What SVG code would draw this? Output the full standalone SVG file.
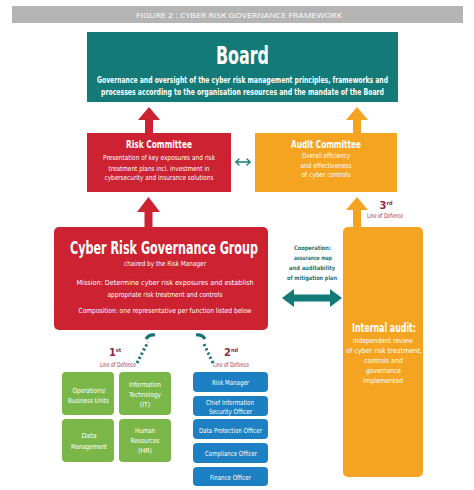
<svg xmlns="http://www.w3.org/2000/svg" width="474" height="490" viewBox="0 0 474 490">
<defs>
<style>
.t{font-family:"DejaVu Sans Condensed","DejaVu Sans",sans-serif;font-stretch:condensed;text-anchor:middle;fill:#fff}
.b{font-weight:bold}
.sm{font-size:7px}
.lod{font-family:"DejaVu Sans Condensed","DejaVu Sans",sans-serif;font-stretch:condensed;text-anchor:middle;fill:#a0334a;font-size:6.5px}
.num{font-family:"DejaVu Sans Condensed","DejaVu Sans",sans-serif;font-stretch:condensed;text-anchor:middle;fill:#8c2a3e;font-size:11px;font-weight:bold}
.coop{font-family:"DejaVu Sans Condensed","DejaVu Sans",sans-serif;font-stretch:condensed;text-anchor:middle;fill:#1b7472;font-size:6px;font-weight:bold}
.red{fill:#cc2232}
.org{fill:#f5a421}
.grn{fill:#7bb748}
.blu{fill:#1c80c2}
.teal{fill:#137a77}
</style>
</defs>
<rect width="474" height="490" fill="#fff"/>

<g id="title">
<rect x="12" y="6" width="451" height="17" fill="#b4b4b4"/>
<text x="239" y="18" font-family="'Open Sans',sans-serif" font-size="8" fill="#fff" text-anchor="middle" textLength="206" lengthAdjust="spacingAndGlyphs">FIGURE 2 : CYBER RISK GOVERNANCE FRAMEWORK</text>
</g>

<g id="board">
<rect x="87" y="32" width="311" height="70" class="teal"/>
<text x="242.5" y="64" class="t b" font-size="24" textLength="53" lengthAdjust="spacingAndGlyphs">Board</text>
<text x="242.5" y="83" class="t b" font-size="8" textLength="291" lengthAdjust="spacingAndGlyphs">Governance and oversight of the cyber risk management principles, frameworks and</text>
<text x="242.5" y="95" class="t b" font-size="8" textLength="283" lengthAdjust="spacingAndGlyphs">processes according to the organisation resources and the mandate of the Board</text>
</g>

<g id="risk-committee">
<rect x="87" y="133" width="144" height="59" class="red"/>
<text x="159" y="148" class="t b" font-size="11" textLength="66" lengthAdjust="spacingAndGlyphs">Risk Committee</text>
<text x="159" y="160" class="t sm" textLength="112" lengthAdjust="spacingAndGlyphs">Presentation of key exposures and risk</text>
<text x="159" y="170.5" class="t sm" textLength="101" lengthAdjust="spacingAndGlyphs">treatment plans incl. investment  in</text>
<text x="159" y="180" class="t sm" textLength="109" lengthAdjust="spacingAndGlyphs">cybersecurity and insurance solutions</text>
</g>

<g id="audit-committee">
<rect x="255" y="133" width="142" height="59" class="org"/>
<text x="326" y="148" class="t b" font-size="11" textLength="70" lengthAdjust="spacingAndGlyphs">Audit Committee</text>
<text x="326" y="158" class="t sm" textLength="48" lengthAdjust="spacingAndGlyphs">Overall efficiency</text>
<text x="326" y="167.5" class="t sm" textLength="51" lengthAdjust="spacingAndGlyphs">and effectiveness</text>
<text x="326" y="177" class="t sm" textLength="49" lengthAdjust="spacingAndGlyphs">of cyber controls</text>
</g>

<g id="crgg">
<rect x="54" y="227" width="214" height="103" rx="5" class="red"/>
<text x="164" y="254" class="t b" font-size="17" textLength="188" lengthAdjust="spacingAndGlyphs">Cyber Risk Governance Group</text>
<text x="165" y="266" class="t sm" textLength="82" lengthAdjust="spacingAndGlyphs">chaired by the Risk Manager</text>
<text x="165" y="285" class="t sm" textLength="177" lengthAdjust="spacingAndGlyphs">Mission: Determine cyber risk exposures and establish</text>
<text x="165" y="297" class="t sm" textLength="115" lengthAdjust="spacingAndGlyphs">appropriate risk treatment and controls</text>
<text x="165" y="313" class="t sm" textLength="173" lengthAdjust="spacingAndGlyphs">Composition: one representative per function listed below</text>
</g>

<g id="internal-audit">
<rect x="343" y="227" width="80" height="250" rx="5" class="org"/>
<text x="384" y="332" class="t b" font-size="11.5" textLength="64" lengthAdjust="spacingAndGlyphs">Internal audit:</text>
<text x="383" y="343" class="t sm" textLength="60" lengthAdjust="spacingAndGlyphs">independent review</text>
<text x="384" y="353" class="t sm" textLength="76" lengthAdjust="spacingAndGlyphs">of cyber risk treatment,</text>
<text x="383.5" y="363" class="t sm" textLength="39" lengthAdjust="spacingAndGlyphs">controls and</text>
<text x="383.5" y="373" class="t sm" textLength="35" lengthAdjust="spacingAndGlyphs">governance</text>
<text x="383" y="383" class="t sm" textLength="40" lengthAdjust="spacingAndGlyphs">implemented</text>
</g>

<g id="line1-label">
<text x="115" y="356" class="num">1<tspan font-size="5.5" dy="-4">st</tspan></text>
<text x="118" y="367" class="lod" textLength="36" lengthAdjust="spacingAndGlyphs">Line of Defence</text>
</g>
<g id="line2-label">
<text x="231" y="356" class="num">2<tspan font-size="5.5" dy="-4">nd</tspan></text>
<text x="231" y="367" class="lod" textLength="36" lengthAdjust="spacingAndGlyphs">Line of Defence</text>
</g>
<g id="line3-label">
<text x="386" y="209" class="num">3<tspan font-size="5.5" dy="-4">rd</tspan></text>
<text x="385" y="218" class="lod" textLength="36" lengthAdjust="spacingAndGlyphs">Line of Defence</text>
</g>

<g id="cooperation-label">
<text x="312.5" y="250" class="coop" textLength="37" lengthAdjust="spacingAndGlyphs">Cooperation:</text>
<text x="313" y="260" class="coop" textLength="38" lengthAdjust="spacingAndGlyphs">assurance map</text>
<text x="312" y="270" class="coop" textLength="46" lengthAdjust="spacingAndGlyphs">and auditability</text>
<text x="312" y="280" class="coop" textLength="50" lengthAdjust="spacingAndGlyphs">of mitigation plan</text>
</g>

<g id="ops">
<rect x="62" y="372" width="52" height="43" rx="4" class="grn"/>
<text x="89" y="393" class="t sm" textLength="33" lengthAdjust="spacingAndGlyphs">Operations/</text>
<text x="88.5" y="403" class="t sm" textLength="41" lengthAdjust="spacingAndGlyphs">Business Units</text>
</g>
<g id="it">
<rect x="119" y="372" width="52" height="43" rx="4" class="grn"/>
<text x="145" y="387" class="t sm" textLength="32" lengthAdjust="spacingAndGlyphs">Information</text>
<text x="145" y="397" class="t sm" textLength="32" lengthAdjust="spacingAndGlyphs">Technology</text>
<text x="145" y="406.5" class="t sm">(IT)</text>
</g>
<g id="data-mgmt">
<rect x="62" y="419" width="52" height="43" rx="4" class="grn"/>
<text x="89" y="438" class="t sm">Data</text>
<text x="89" y="449" class="t sm" textLength="36" lengthAdjust="spacingAndGlyphs">Management</text>
</g>
<g id="hr">
<rect x="119" y="419" width="52" height="43" rx="4" class="grn"/>
<text x="145" y="433" class="t sm" textLength="20" lengthAdjust="spacingAndGlyphs">Human</text>
<text x="145" y="443" class="t sm" textLength="29" lengthAdjust="spacingAndGlyphs">Resources</text>
<text x="145" y="452.5" class="t sm">(HR)</text>
</g>

<g id="risk-manager">
<rect x="193" y="372" width="75" height="20" rx="4" class="blu"/>
<text x="230.5" y="385" class="t sm" textLength="37" lengthAdjust="spacingAndGlyphs">Risk Manager</text>
</g>
<g id="ciso">
<rect x="193" y="396" width="75" height="20" rx="4" class="blu"/>
<text x="230" y="405" class="t sm" textLength="48" lengthAdjust="spacingAndGlyphs">Chief Information</text>
<text x="230.5" y="413.5" class="t sm" textLength="43" lengthAdjust="spacingAndGlyphs">Security Officer</text>
</g>
<g id="dpo">
<rect x="193" y="419" width="75" height="20" rx="4" class="blu"/>
<text x="230.5" y="432.5" class="t sm" textLength="63" lengthAdjust="spacingAndGlyphs">Data Protection Officer</text>
</g>
<g id="compliance">
<rect x="193" y="443" width="75" height="20" rx="4" class="blu"/>
<text x="231" y="456" class="t sm" textLength="52" lengthAdjust="spacingAndGlyphs">Compliance Officer</text>
</g>
<g id="finance">
<rect x="193" y="467" width="75" height="19" rx="4" class="blu"/>
<text x="230.5" y="479.5" class="t sm" textLength="41" lengthAdjust="spacingAndGlyphs">Finance Officer</text>
</g>

<g id="connectors">
<polygon points="149,107 160,120 153,120 153,133 145,133 145,120 138,120" class="red"/>
<polygon points="148.5,197 160,212 152.5,212 152.5,227 144.5,227 144.5,212 137,212" class="red"/>
<polygon points="357,107 368,120 361,120 361,133 353,133 353,120 346,120" class="org"/>
<polygon points="357,197 368,210 361,210 361,227 353,227 353,210 346,210" class="org"/>
<polygon points="282,298 294,289 294,294.5 330,294.5 330,289 342,298 330,307 330,301.5 294,301.5 294,307" class="teal"/>
<g fill="none" stroke="#137a77" stroke-width="1.3" stroke-linecap="round">
<path d="M236,162 H250"/>
<path d="M239,159 L236,162 L239,165"/>
<path d="M247,159 L250,162 L247,165"/>
</g>
<g fill="none" stroke="#147370" stroke-width="3" stroke-dasharray="2.2 2.5">
<path d="M137,363 L148,342"/>
<path d="M213,363 L203,342"/>
</g>
<g fill="none" stroke="#147370" stroke-width="3.2" stroke-linejoin="miter">
<path d="M146,339 Q149,334 155,335"/>
<path d="M205,339 Q202,334 196,335"/>
</g>
</g>
</svg>
